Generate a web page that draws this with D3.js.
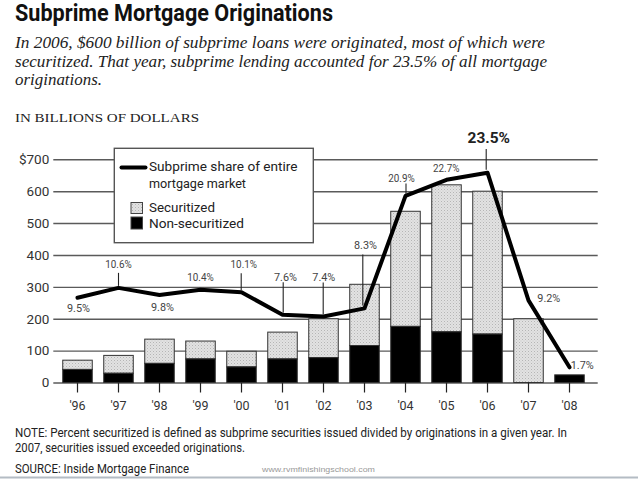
<!DOCTYPE html>
<html>
<head>
<meta charset="utf-8">
<script src="https://cdn.jsdelivr.net/npm/d3@7"></script>
<style>
  html, body { margin: 0; padding: 0; background: #fff; }
  svg { display: block; }
</style>
</head>
<body>
<svg id="chart" width="638" height="479"></svg>
<script>
// ---------------- DATA ----------------
const years = ["'96","'97","'98","'99","'00","'01","'02","'03","'04","'05","'06","'07","'08"];
const nonSecuritized = [41, 29, 60, 74, 49, 74, 78, 116, 176, 159, 152, 0, 24];
const securitized    = [29, 56, 76, 56, 49, 84, 122, 192, 361, 461, 448, 200, 0];
const subprimeShare  = [9.5, 10.6, 9.8, 10.4, 10.1, 7.6, 7.4, 8.3, 20.9, 22.7, 23.5, 9.2, 1.7];
const yTicks = [0, 100, 200, 300, 400, 500, 600, 700];

const titleText = "Subprime Mortgage Originations";
const subtitleLines = [
  "In 2006, $600 billion of subprime loans were originated, most of which were",
  "securitized. That year, subprime lending accounted for 23.5% of all mortgage",
  "originations."
];
const unitText = "IN BILLIONS OF DOLLARS";
const noteLines = [
  "NOTE: Percent securitized is defined as subprime securities issued divided by originations in a given year. In",
  "2007, securities issued exceeded originations."
];
const sourceText = "SOURCE: Inside Mortgage Finance";
const watermark = "www.rvmfinishingschool.com";

// label layout (offsets from each point; style, not data)
// [dx, dy(center), leaderDx, leaderTop, leaderBottom]
const labelLayout = [
  [1, 10, null],
  [0, -23.5, 0, -15, -2],
  [3, 12.3, null],
  [0, -13, null],
  [2.3, -28, -0.3, -19, -2],
  [3, -38, 0.7, -32.5, -2],
  [0.3, -39.7, -0.3, -34, -2],
  [1, -63.4, -1.7, -54, -3],
  [-4, -18.2, 0.5, -12.5, -2],
  [-0.3, -11.5, null],
  [1.3, -34.4, -1.3, -23.7, -3],
  [20.3, -2, null],
  [12.7, -2, null]
];

// ---------------- SETUP ----------------
const svg = d3.select("#chart");
const sans = "'Liberation Sans Narrow', 'Roboto', 'DejaVu Sans Condensed', sans-serif";
const sansReg = "'Roboto', 'Liberation Sans', sans-serif";
const serif = "'Liberation Serif', 'DejaVu Serif', serif";

const y0 = 382.5, yTop = 159.3;
const gridLeft = 53.3, gridRight = 597.7;

const x = d3.scaleBand().domain(years).range([57, 590]).paddingInner(0.28).paddingOuter(0.14);
const xc = d => x(d) + x.bandwidth() / 2;
const y = d3.scaleLinear().domain([0, 700]).range([y0, yTop]);
const yPct = d3.scaleLinear().domain([0, 25]).range([y0, yTop]);

// pattern for securitized
const defs = svg.append("defs");
const pat = defs.append("pattern").attr("id", "dots").attr("width", 3).attr("height", 3)
  .attr("patternUnits", "userSpaceOnUse");
pat.append("rect").attr("width", 3).attr("height", 3).attr("fill", "#e2e2e2");
pat.append("rect").attr("x", 0).attr("y", 0).attr("width", 1).attr("height", 1).attr("fill", "#b5b5b5");
pat.append("rect").attr("x", 1.5).attr("y", 1.5).attr("width", 1).attr("height", 1).attr("fill", "#c8c8c8");

// ---------------- TITLES ----------------
svg.append("text").attr("x", 15).attr("y", 21)
  .attr("font-family", sans).attr("font-weight", "bold").attr("font-size", 23)
  .attr("textLength", 318).attr("lengthAdjust", "spacingAndGlyphs")
  .attr("fill", "#111").text(titleText);

const subW = [530, 532, 87];
const subY = [48.3, 66.8, 85.2];
subtitleLines.forEach((t, i) => {
  svg.append("text").attr("x", 15).attr("y", subY[i])
    .attr("font-family", serif).attr("font-style", "italic").attr("font-size", 17)
    .attr("textLength", subW[i]).attr("lengthAdjust", "spacingAndGlyphs")
    .attr("fill", "#222").text(t);
});

svg.append("text").attr("x", 15).attr("y", 122.3)
  .attr("font-family", serif).attr("font-size", 12)
  .attr("textLength", 184).attr("lengthAdjust", "spacingAndGlyphs")
  .attr("fill", "#222").text(unitText);

// ---------------- Y AXIS / GRID ----------------
const yAxis = d3.axisLeft(y).tickValues(yTicks)
  .tickSize(gridRight - gridLeft).tickPadding(4)
  .tickFormat(d => d === 700 ? "$700" : String(d));
const gy = svg.append("g").attr("transform", `translate(${gridRight},0)`).call(yAxis);
gy.select(".domain").remove();
gy.selectAll(".tick line").attr("stroke", "#5a5a5a").attr("stroke-width", 1.4);
gy.selectAll(".tick text").attr("font-family", sansReg).attr("font-size", 13.5)
  .attr("fill", "#333");

// ---------------- LEGEND ----------------
const lg = svg.append("g");
lg.append("rect").attr("x", 114.3).attr("y", 148.3).attr("width", 199).attr("height", 94.4)
  .attr("fill", "#fff").attr("stroke", "#555").attr("stroke-width", 1.4);
lg.append("line").attr("x1", 121.5).attr("x2", 145.5).attr("y1", 167.5).attr("y2", 167.5)
  .attr("stroke", "#000").attr("stroke-width", 4).attr("stroke-linecap", "round");
const legText = (t, yy, w) => lg.append("text").attr("x", 149).attr("y", yy)
  .attr("font-family", sansReg).attr("font-size", 13).attr("fill", "#222")
  .attr("textLength", w).attr("lengthAdjust", "spacingAndGlyphs").text(t);
legText("Subprime share of entire", 171.3, 148.5);
legText("mortgage market", 188, 97);
lg.append("rect").attr("x", 131).attr("y", 202.5).attr("width", 11.5).attr("height", 11)
  .attr("fill", "url(#dots)").attr("stroke", "#444").attr("stroke-width", 1);
legText("Securitized", 212, 66);
lg.append("rect").attr("x", 131).attr("y", 217).attr("width", 11.5).attr("height", 12)
  .attr("fill", "#000").attr("stroke", "#444").attr("stroke-width", 1);
legText("Non-securitized", 228, 95);

// ---------------- BARS ----------------
const bars = svg.append("g");
years.forEach((yr, i) => {
  const total = nonSecuritized[i] + securitized[i];
  if (securitized[i] > 0) {
    bars.append("rect").attr("x", x(yr)).attr("width", x.bandwidth())
      .attr("y", y(total)).attr("height", y(nonSecuritized[i]) - y(total))
      .attr("fill", "url(#dots)").attr("stroke", "#333").attr("stroke-width", 1);
  }
  if (nonSecuritized[i] > 0) {
    bars.append("rect").attr("x", x(yr)).attr("width", x.bandwidth())
      .attr("y", y(nonSecuritized[i])).attr("height", y0 - y(nonSecuritized[i]))
      .attr("fill", "#000").attr("stroke", "#333").attr("stroke-width", 1);
  }
});

// ---------------- X AXIS ----------------
const xAxis = d3.axisBottom(x).tickSize(10).tickSizeOuter(0);
const gx = svg.append("g").attr("transform", `translate(0,${y0})`).call(xAxis);
gx.select(".domain").remove();
gx.selectAll(".tick line").attr("stroke", "#222").attr("stroke-width", 1.2);
gx.selectAll(".tick text").attr("y", 27.5).attr("dy", 0)
  .attr("font-family", sansReg).attr("font-size", 12.5).attr("fill", "#333");

// ---------------- LINE ----------------
const lineGen = d3.line().x((d, i) => xc(years[i])).y(d => yPct(d));
svg.append("path").datum(subprimeShare).attr("d", lineGen)
  .attr("fill", "none").attr("stroke", "#000").attr("stroke-width", 4)
  .attr("stroke-linejoin", "round").attr("stroke-linecap", "round");

// ---------------- LABELS ----------------
const lab = svg.append("g");
subprimeShare.forEach((v, i) => {
  const px = xc(years[i]), py = yPct(v);
  const L = labelLayout[i];
  const isMax = v === d3.max(subprimeShare);
  if (L[2] !== null && L[2] !== undefined) {
    lab.append("line").attr("x1", px + L[2]).attr("x2", px + L[2])
      .attr("y1", py + L[3]).attr("y2", py + L[4])
      .attr("stroke", "#222").attr("stroke-width", 1.1);
  }
  lab.append("text").attr("x", px + L[0]).attr("y", py + L[1])
    .attr("dominant-baseline", "central").attr("text-anchor", "middle")
    .attr("font-family", isMax ? sansReg : sans)
    .attr("font-weight", isMax ? "bold" : "normal")
    .attr("font-size", isMax ? 14 : 11.5)
    .attr("fill", isMax ? "#222" : "#444")
    .attr("textLength", isMax ? 42.5 : (v >= 10 ? 26.5 : 23))
    .attr("lengthAdjust", "spacingAndGlyphs")
    .text(v.toFixed(1) + "%");
});

// ---------------- NOTES ----------------
const noteW = [552, 230];
const noteY = [436.7, 452.3];
noteLines.forEach((t, i) => {
  svg.append("text").attr("x", 15).attr("y", noteY[i])
    .attr("font-family", sans).attr("font-size", 13)
    .attr("textLength", noteW[i]).attr("lengthAdjust", "spacingAndGlyphs")
    .attr("fill", "#222").text(t);
});
svg.append("text").attr("x", 15).attr("y", 473.3)
  .attr("font-family", sans).attr("font-size", 13)
  .attr("textLength", 174).attr("lengthAdjust", "spacingAndGlyphs")
  .attr("fill", "#222").text(sourceText);
svg.append("text").attr("x", 262).attr("y", 471.5)
  .attr("font-family", "'Liberation Sans', Arial, sans-serif").attr("font-size", 8)
  .attr("textLength", 113).attr("lengthAdjust", "spacingAndGlyphs")
  .attr("fill", "#999").text(watermark);

svg.append("line").attr("x1", 0).attr("x2", 638).attr("y1", 477.6).attr("y2", 477.6)
  .attr("stroke", "#b4bcc4").attr("stroke-width", 2);
</script>
</body>
</html>
